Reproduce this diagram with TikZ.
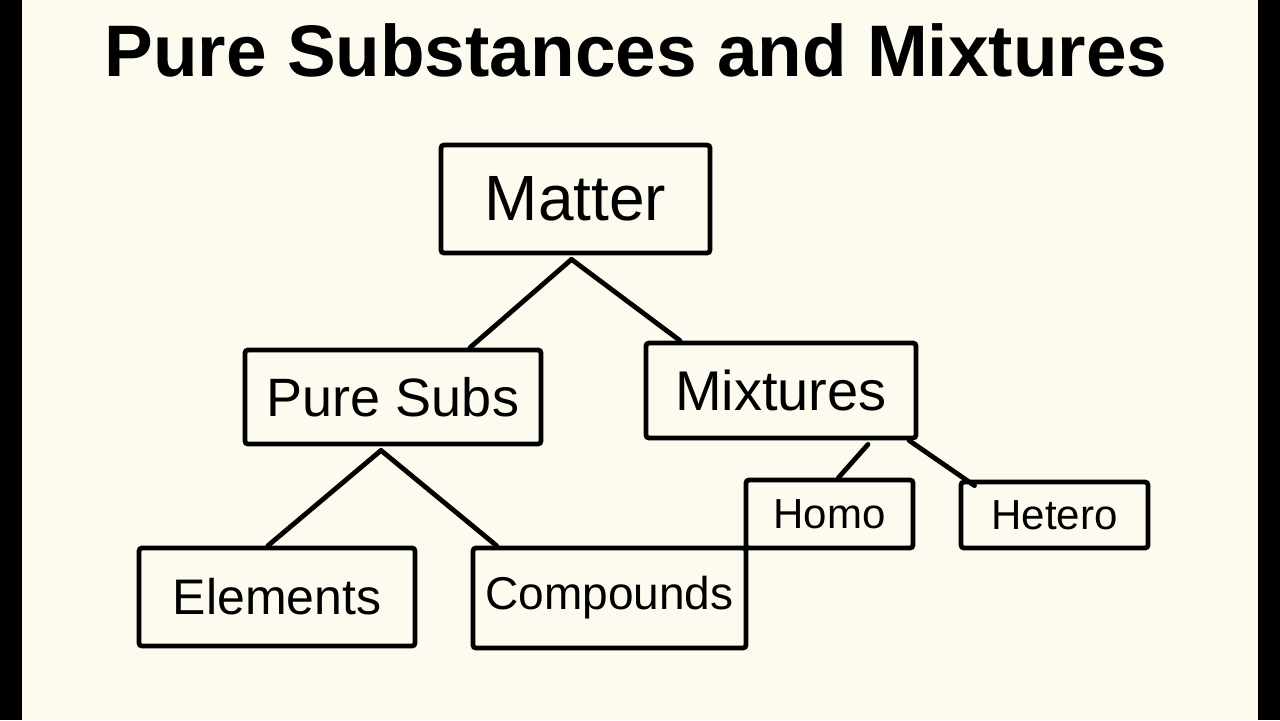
\documentclass[tikz,border=0pt]{standalone}
\usepackage{fontspec}
\setmainfont{Liberation Sans}
\definecolor{cream}{HTML}{FDFBEF}
\begin{document}
\begin{tikzpicture}[x=0.5pt,y=-0.5pt,
  box/.style={draw,line width=2.4pt,rounded corners=1.5pt,inner sep=0pt},
  conn/.style={line width=2.4pt,line cap=round}]
\useasboundingbox (0,0) rectangle (1280,720);
\fill[black] (0,0) rectangle (1280,720);
\fill[cream] (22,0) rectangle (1258,720);
\node (title) at (636,50) {\fontsize{36.5}{40}\selectfont\bfseries Pure Substances and Mixtures};
\node[box,minimum width=134.5pt,minimum height=54pt] (matter) at (575.5,199) {\fontsize{32}{36}\selectfont Matter};
\node[box,minimum width=148pt,minimum height=47pt] (pure) at (393,397) {\fontsize{27}{30}\selectfont Pure Subs};
\node[box,minimum width=135pt,minimum height=47.5pt] (mix) at (781,390.5) {\fontsize{28}{30}\selectfont Mixtures};
\node[box,minimum width=83.5pt,minimum height=34pt] (homo) at (829.5,514) {\fontsize{21}{24}\selectfont Homo};
\node[box,minimum width=93.5pt,minimum height=33pt] (hetero) at (1054.5,515) {\fontsize{21}{24}\selectfont Hetero};
\node[box,minimum width=138pt,minimum height=49pt] (elem) at (277,597) {\fontsize{25}{28}\selectfont Elements};
\node[box,minimum width=136.5pt,minimum height=50pt] (comp) at (609.5,598) {\fontsize{23}{26}\selectfont Compounds};
\draw[conn] ([xshift=-2pt,yshift=-2pt]matter.south) -- ([xshift=38.5pt]pure.north);
\draw[conn] ([xshift=-2pt,yshift=-2pt]matter.south) -- ([xshift=-50.5pt]mix.north);
\draw[conn] ([xshift=-6pt,yshift=-2pt]pure.south) -- ([xshift=-4.5pt]elem.north);
\draw[conn] ([xshift=-6pt,yshift=-2pt]pure.south) -- ([xshift=-56.5pt]comp.north);
\draw[conn] ([xshift=43.5pt,yshift=-2pt]mix.south) -- ([xshift=4.5pt]homo.north);
\draw[conn] ([xshift=64pt]mix.south) -- ([xshift=-40pt,yshift=-3pt]hetero.north);
\end{tikzpicture}
\end{document}
